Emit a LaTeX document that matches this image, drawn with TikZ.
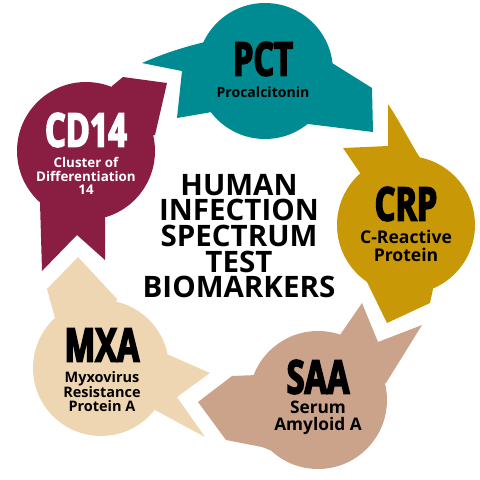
\documentclass[tikz,border=0pt]{standalone}
\usepackage{fontspec}
\setmainfont{Open Sans}
\newfontfamily\titlefont{Open Sans}[FakeStretch=0.7,FakeBold=3.5]
\usepackage{tikz}
\usepackage{xcolor}
\usetikzlibrary{positioning}

\definecolor{pctteal}{RGB}{0,139,146}
\definecolor{crpgold}{RGB}{201,152,6}
\definecolor{saatan}{RGB}{203,162,138}
\definecolor{mxabeige}{RGB}{239,214,178}
\definecolor{cdmaroon}{RGB}{138,30,66}

\begin{document}
\begin{tikzpicture}[
    x=0.025cm, y=-0.025cm,
    every node/.style = {align=center, inner sep=0pt},
    title/.style = {font=\titlefont\bfseries\fontsize{33}{33}\selectfont},
    sub/.style = {font=\bfseries\fontsize{#1}{#1}\selectfont},
    middle/.style = {font=\bfseries\fontsize{21}{18.2}\selectfont}
  ]
  \useasboundingbox (0,0) rectangle (480,480);

  % PCT
  \fill[pctteal] (265,71) circle[radius=68];
  \fill[pctteal] (265,71) -- (205,42) .. controls (180,48) and (160,55) .. (142,63)
    -- (182,71) -- (177,118) -- (212,112) -- cycle;
  \fill[pctteal] (265,71) -- (332,63) -- (372,88) -- (373,132) -- (308,124) -- cycle;

  % CRP
  \fill[crpgold] (406,225) circle[radius=69];
  \fill[crpgold] (406,225) -- (360,173) -- (343,148) -- (388,146) -- (388,104)
    .. controls (400,122) and (410,142) .. (420,158) -- cycle;
  \fill[crpgold] (406,225) -- (367,282) -- (387,323) -- (430,303) -- (433,289) -- cycle;

  % SAA
  \fill[saatan] (318,400) circle[radius=69];
  \fill[saatan] (318,400) -- (340,335) -- (362,303) -- (378,342) -- (422,325) -- (386,383) -- cycle;
  \fill[saatan] (318,400) -- (257,375) -- (232,376) -- (198,402) -- (226,440) -- (262,447) -- (275,452) -- cycle;

  % MXA
  \fill[mxabeige] (101,368) circle[radius=68];
  \fill[mxabeige] (101,368) -- (55,318) -- (47,289) -- (78,257) -- (117,299) -- cycle;
  \fill[mxabeige] (101,368) -- (169,355) -- (210,373) -- (177,397) -- (205,437) -- (155,410) -- cycle;

  % CD14
  \fill[cdmaroon] (86,151) circle[radius=69];
  \fill[cdmaroon] (86,151) -- (112,86) -- (123,77) -- (167,83) -- (155,135) -- cycle;
  \fill[cdmaroon] (86,151) -- (40,203) -- (42,271) -- (77,235) -- (105,260) -- (105,218) -- cycle;

  \node[title] (pct) at (263,59) {PCT};
  \node[sub=10] (pctsub) at (263,92) {Procalcitonin};

  \node[title] (crp) at (406,204) {CRP};
  \node[sub=12.5] (crpsub) at (406,246) {C-Reactive\\Protein};

  \node[title] (saa) at (318,377) {SAA};
  \node[sub=12.3] (saasub) at (318,418) {Serum\\Amyloid A};

  \node[title] (mxa) at (102,345) {MXA};
  \node[sub=10.3] (mxasub) at (102,392) {Myxovirus\\Resistance\\Protein A};

  \node[title, text=white] (cd) at (86,130) {CD14};
  \node[sub=9.5, text=white] (cdsub) at (86,176) {Cluster of\\Differentiation\\14};

  \node[middle] (hub) at (239,236) {HUMAN\\INFECTION\\SPECTRUM\\TEST\\BIOMARKERS};

\end{tikzpicture}
\end{document}
